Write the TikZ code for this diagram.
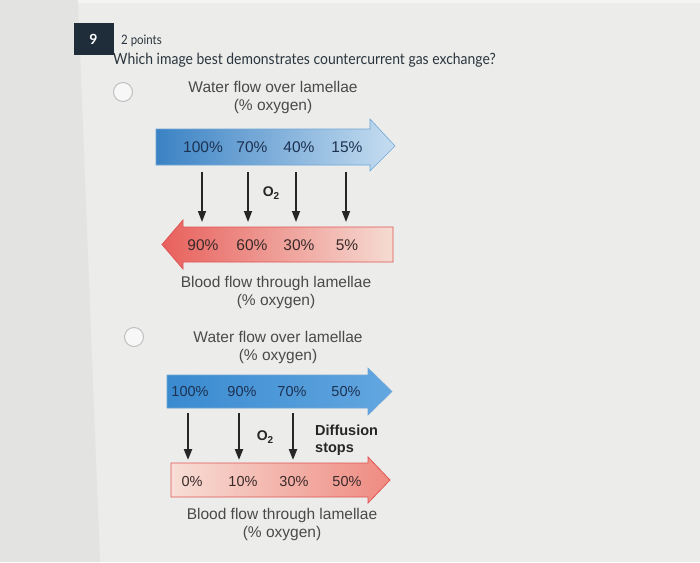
\documentclass[tikz,border=0pt]{standalone}
\usepackage{fontspec}
\setmainfont{Liberation Sans}
\newfontfamily\latofont{Lato}
\usetikzlibrary{arrows.meta}
\definecolor{bgc}{HTML}{ECECEA}
\definecolor{bgl}{HTML}{E3E3E1}
\definecolor{navy}{HTML}{1F2D3A}
\definecolor{qtext}{HTML}{2A353E}
\definecolor{lbl}{HTML}{4A4A4A}
\definecolor{pct}{HTML}{1D3150}
\definecolor{pctr}{HTML}{3A2A2A}
\definecolor{bluea}{HTML}{3A82C4}
\definecolor{blueb}{HTML}{C6DDF0}
\definecolor{bluec}{HTML}{3A8AD0}
\definecolor{blued}{HTML}{62A7E0}
\definecolor{bedge}{HTML}{6FA6D8}
\definecolor{reda}{HTML}{E8605C}
\definecolor{redb}{HTML}{F5DBD2}
\definecolor{redc}{HTML}{F7DED6}
\definecolor{redd}{HTML}{EF8A80}
\definecolor{redge}{HTML}{E05555}
\tikzset{
  lab/.style={font=\fontsize{15.5}{18}\selectfont, text=lbl, align=center, inner sep=0pt},
  pc/.style={font=\fontsize{15.5}{17}\selectfont, text=pct, inner sep=0pt},
  pcr/.style={font=\fontsize{15.5}{17}\selectfont, text=pctr, inner sep=0pt},
  pcs/.style={font=\fontsize{14.5}{16}\selectfont, text=pct, inner sep=0pt},
  pcsr/.style={font=\fontsize{14.5}{16}\selectfont, text=pctr, inner sep=0pt},
  oxy/.style={font=\bfseries\fontsize{14}{16}\selectfont, text=black!85, inner sep=0pt},
  darr/.style={line width=1.4pt, -{Triangle[length=11pt,width=8pt]}, black!85},
  darrb/.style={line width=2.2pt, -{Triangle[length=11pt,width=8pt]}, black!85},
  radio/.style={draw=black!25, fill=white!97!black, line width=1pt, circle, minimum size=19pt, inner sep=0pt},
}
\begin{document}
\begin{tikzpicture}[x=1pt,y=-1pt]
\useasboundingbox (0,0) rectangle (700,562);
\fill[bgc] (0,0) rectangle (700,562);
\fill[bgl] (0,0) -- (78,0) -- (100,562) -- (0,562) -- cycle;
\fill[white!40!bgc] (78,0) rectangle (700,3);

% header
\node[fill=navy, minimum width=40pt, minimum height=32pt, inner sep=0pt, text=white, font=\latofont\bfseries\fontsize{14}{16}\selectfont] (num) at (93.5,39) {9};
\node[anchor=west, inner sep=0pt, text=qtext, font=\latofont\fontsize{13}{15}\selectfont] (pts) at (121,41) {\scalebox{0.88}[1]{2 points}};
\node[anchor=west, inner sep=0pt, text=qtext, font=\latofont\fontsize{15.5}{18}\selectfont] (q) at (113,60) {\scalebox{0.9}[1]{Which image best demonstrates countercurrent gas exchange?}};

% option 1
\node[radio] (r1) at (123,92) {};
\node[lab] (w1) at (273,97) {Water flow over lamellae\\(\% oxygen)};

\path[left color=bluea, right color=blueb, draw=bedge, line width=0.6pt] (156,129) -- (370,129) -- (370,119) -- (395,146) -- (370,171) -- (370,165) -- (156,165) -- cycle;
\node[pc] (b1a) at (203,147) {100\%};
\node[pc] (b1b) at (252,147) {70\%};
\node[pc] (b1c) at (299,147) {40\%};
\node[pc] (b1d) at (347,147) {15\%};

\path[left color=reda, right color=redb, draw=redge, line width=0.8pt] (393,227) -- (183,227) -- (183,220) -- (162,244.5) -- (183,269) -- (183,262) -- (393,262) -- cycle;
\node[pcr] (r1a) at (203,245) {90\%};
\node[pcr] (r1b) at (252,245) {60\%};
\node[pcr] (r1c) at (299,245) {30\%};
\node[pcr] (r1d) at (347,245) {5\%};

\coordinate (u1t) at (202,172); \coordinate (u1b) at (202,222);
\coordinate (u2t) at (248,172); \coordinate (u2b) at (248,222);
\coordinate (u3t) at (296,172); \coordinate (u3b) at (296,222);
\coordinate (u4t) at (346,172); \coordinate (u4b) at (346,222);
\draw[darr] (u1t) -- (u1b);
\draw[darr] (u2t) -- (u2b);
\draw[darr] (u3t) -- (u3b);
\draw[darr] (u4t) -- (u4b);
\node[oxy] (o1) at (271,193) {O\raisebox{-0.35ex}{\fontsize{10}{11}\selectfont 2}};

\node[lab] (bl1) at (276,292) {Blood flow through lamellae\\(\% oxygen)};

% option 2
\node[radio] (r2) at (134,337) {};
\node[lab] (w2) at (278,347) {Water flow over lamellae\\(\% oxygen)};

\path[left color=bluec, right color=blued, draw=bedge, line width=0.6pt] (167,375) -- (368,375) -- (368,368) -- (392,391.5) -- (368,415) -- (368,408) -- (167,408) -- cycle;
\node[pcs] (b2a) at (190,392) {100\%};
\node[pcs] (b2b) at (242,392) {90\%};
\node[pcs] (b2c) at (292,392) {70\%};
\node[pcs] (b2d) at (346,392) {50\%};

\coordinate (v1t) at (188,413); \coordinate (v1b) at (188,460);
\coordinate (v2t) at (239,413); \coordinate (v2b) at (239,460);
\coordinate (v3t) at (293,413); \coordinate (v3b) at (293,460);
\draw[darrb] (v1t) -- (v1b);
\draw[darrb] (v2t) -- (v2b);
\draw[darrb] (v3t) -- (v3b);
\node[oxy] (o2) at (265,437) {O\raisebox{-0.35ex}{\fontsize{10}{11}\selectfont 2}};
\node[oxy, anchor=west, align=left, font=\bfseries\fontsize{14.5}{17}\selectfont] (ds) at (315,440) {Diffusion\\stops};

\path[left color=redc, right color=redd, draw=redge, line width=0.8pt] (171,463) -- (368,463) -- (368,457) -- (390,480) -- (368,503) -- (368,497) -- (171,497) -- cycle;
\node[pcsr] (r2a) at (192,481) {0\%};
\node[pcsr] (r2b) at (243,481) {10\%};
\node[pcsr] (r2c) at (294,481) {30\%};
\node[pcsr] (r2d) at (347,481) {50\%};

\node[lab] (bl2) at (282,524) {Blood flow through lamellae\\(\% oxygen)};
\end{tikzpicture}
\end{document}
